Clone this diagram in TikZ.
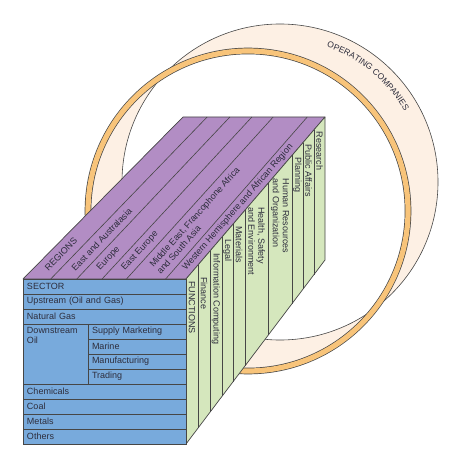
\documentclass[tikz,border=0pt]{standalone}
\usepackage{fontspec}
\setmainfont{Liberation Sans}
\usetikzlibrary{positioning,calc,decorations.text}
\definecolor{sectorblue}{RGB}{120,170,220}
\definecolor{regionpurple}{RGB}{178,141,196}
\definecolor{funcgreen}{RGB}{213,231,189}
\definecolor{ringbeige}{RGB}{253,240,228}
\definecolor{ringorange}{RGB}{248,196,122}
\definecolor{edgegray}{RGB}{70,70,70}
\definecolor{labeltext}{RGB}{45,45,60}
\tikzset{
face/.style={draw=edgegray,line width=.7pt,line join=round},
divider/.style={draw=edgegray,line width=.6pt},
sectorrow/.style={draw=edgegray,line width=.6pt,fill=sectorblue,anchor=north west,minimum height=15pt,text width=155pt,inner xsep=4pt,inner ysep=0pt,outer sep=0pt,align=left,font=\fontsize{9}{10}\selectfont,text=labeltext},
subrow/.style={sectorrow,text width=90pt},
regionlabel/.style={sloped,anchor=west,pos=.06,align=left,inner sep=0pt,font=\fontsize{9}{10}\selectfont,text=labeltext},
funclabel/.style={rotate=-90,anchor=west,align=left,inner sep=0pt,font=\fontsize{9}{10}\selectfont,text=labeltext}
}
\begin{document}
\begin{tikzpicture}[x=1pt,y=1pt,node distance=0pt]
\useasboundingbox (0,0) rectangle (474,467);
\fill[ringbeige,even odd rule] (248,256) circle (160) (280,285) circle (158);
\draw[edgegray,line width=.6pt] (280,285) circle (158);
\draw[edgegray,line width=6.6pt] (248,256) circle (160);
\draw[ringorange,line width=5.2pt] (248,256) circle (160);
\path[decorate,decoration={text along path,text align=left,text={|\fontsize{8.5}{9}\selectfont\color{labeltext}|OPERATING COMPANIES}}] (280,285) ++(71:143) arc[start angle=71,end angle=10,radius=143];
\coordinate (ftl) at (23,188); \coordinate (ftr) at (186,188); \coordinate (fbr) at (186,23);
\coordinate (btl) at (183,350); \coordinate (btr) at (325,350); \coordinate (bbr) at (325,207);
\filldraw[face,fill=regionpurple] (ftl)--(ftr)--(btr)--(btl)--cycle;
\filldraw[face,fill=funcgreen] (ftr)--(btr)--(bbr)--(fbr)--cycle;
\draw[divider] ($(ftl)!.17!(ftr)$)--($(btl)!.17!(btr)$); \draw[divider] ($(ftl)!.33!(ftr)$)--($(btl)!.33!(btr)$);
\draw[divider] ($(ftl)!.485!(ftr)$)--($(btl)!.485!(btr)$); \draw[divider] ($(ftl)!.635!(ftr)$)--($(btl)!.635!(btr)$);
\draw[divider] ($(ftl)!.875!(ftr)$)--($(btl)!.875!(btr)$);
\path ($(ftl)!.085!(ftr)$)--($(btl)!.085!(btr)$) node[regionlabel] (regions) {REGIONS};
\path ($(ftl)!.25!(ftr)$)--($(btl)!.25!(btr)$) node[regionlabel] (eastaus) {East and Australasia};
\path ($(ftl)!.4075!(ftr)$)--($(btl)!.4075!(btr)$) node[regionlabel] (europe) {Europe};
\path ($(ftl)!.56!(ftr)$)--($(btl)!.56!(btr)$) node[regionlabel] (easteur) {East Europe};
\path ($(ftl)!.755!(ftr)$)--($(btl)!.755!(btr)$) node[regionlabel] (mideast) {Middle East, Francophone Africa\\and South Asia};
\path ($(ftl)!.9375!(ftr)$)--($(btl)!.9375!(btr)$) node[regionlabel] (western) {Western Hemisphere and African Region};
\draw[divider] ($(ftr)!.0863!(btr)$)--($(fbr)!.0863!(bbr)$); \draw[divider] ($(ftr)!.1727!(btr)$)--($(fbr)!.1727!(bbr)$);
\draw[divider] ($(ftr)!.259!(btr)$)--($(fbr)!.259!(bbr)$); \draw[divider] ($(ftr)!.338!(btr)$)--($(fbr)!.338!(bbr)$);
\draw[divider] ($(ftr)!.4245!(btr)$)--($(fbr)!.4245!(bbr)$); \draw[divider] ($(ftr)!.59!(btr)$)--($(fbr)!.59!(bbr)$);
\draw[divider] ($(ftr)!.7626!(btr)$)--($(fbr)!.7626!(bbr)$); \draw[divider] ($(ftr)!.8417!(btr)$)--($(fbr)!.8417!(bbr)$);
\draw[divider] ($(ftr)!.921!(btr)$)--($(fbr)!.921!(bbr)$);
\node[funclabel] (functions) at ($(ftr)!.0432!(btr)+(0,-9)$) {FUNCTIONS};
\node[funclabel] (finance) at ($(ftr)!.1295!(btr)+(0,-19)$) {Finance};
\node[funclabel] (infocomp) at ($(ftr)!.2158!(btr)+(0,-9)$) {Information Computing};
\node[funclabel] (legal) at ($(ftr)!.2986!(btr)+(0,-9)$) {Legal};
\node[funclabel] (materials) at ($(ftr)!.3813!(btr)+(0,-9)$) {Materials};
\node[funclabel] (hse) at ($(ftr)!.5072!(btr)+(0,-10)$) {Health, Safety\\and Environment};
\node[funclabel] (hr) at ($(ftr)!.6763!(btr)+(0,-9)$) {Human Resources\\and Organization};
\node[funclabel] (planning) at ($(ftr)!.8022!(btr)+(0,-8)$) {Planning};
\node[funclabel] (pubaff) at ($(ftr)!.8813!(btr)+(0,-8)$) {Public Affairs};
\node[funclabel] (research) at ($(ftr)!.9604!(btr)+(0,-8)$) {Research};
\node[sectorrow] (sector) at (ftl) {SECTOR};
\node[sectorrow,below=of sector] (upstream) {Upstream (Oil and Gas)};
\node[sectorrow,below=of upstream] (natgas) {Natural Gas};
\node[sectorrow,text width=57pt,minimum height=60pt] (downstream) at (natgas.south west) {\parbox[c][56pt][t]{57pt}{\strut Downstream\\Oil}};
\node[subrow] (supply) at (downstream.north east) {Supply Marketing};
\node[subrow,below=of supply] (marine) {Marine};
\node[subrow,below=of marine] (manufacturing) {Manufacturing};
\node[subrow,below=of manufacturing] (trading) {Trading};
\node[sectorrow] (chemicals) at (downstream.south west) {Chemicals};
\node[sectorrow,below=of chemicals] (coal) {Coal};
\node[sectorrow,below=of coal] (metals) {Metals};
\node[sectorrow,below=of metals] (others) {Others};
\end{tikzpicture}
\end{document}
